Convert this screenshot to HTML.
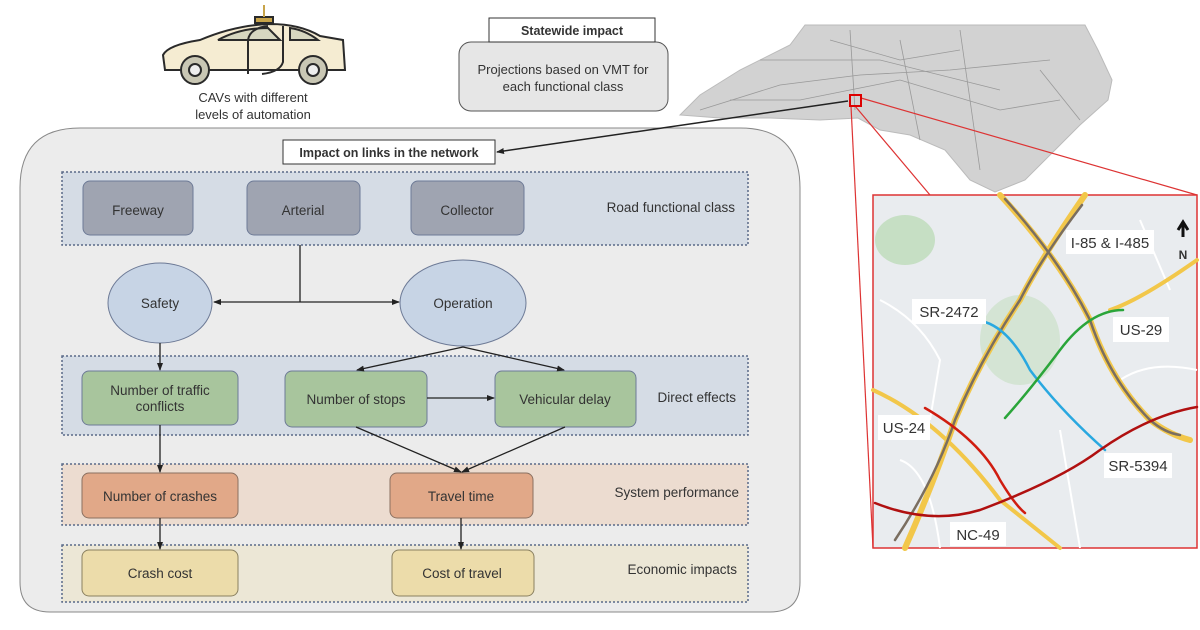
<!DOCTYPE html>
<html><head><meta charset="utf-8"><style>
html,body{margin:0;padding:0;background:#fff;width:1200px;height:630px;overflow:hidden}
svg{display:block}
text{font-family:"Liberation Sans",sans-serif;fill:#333}
</style></head><body>
<svg width="1200" height="630" viewBox="0 0 1200 630" xmlns="http://www.w3.org/2000/svg">
<defs>
<marker id="a" markerWidth="8" markerHeight="8" refX="7" refY="4" orient="auto" markerUnits="userSpaceOnUse"><path d="M0,1 L8,4 L0,7 z" fill="#222"/></marker>
</defs>
<!-- car -->
<g stroke="#2a2a2a" stroke-width="2" fill="#f5ecd2">
<path d="M165,70 L163,55 Q168,45 200,40 Q235,25 270,24 Q300,24 320,36 L343,40 L345,70 Z"/>
<path d="M218,40 Q240,28 268,28 L280,40 Z" fill="#d7d7c0"/>
<path d="M290,28 Q305,30 318,40 L290,40 Z" fill="#d7d7c0"/>
<path d="M248,74 L248,40 Q250,28 268,26 M283,26 L283,62 Q280,72 262,74" fill="none"/>
<rect x="255" y="17" width="18" height="6" fill="#c8a44a"/>
<circle cx="195" cy="70" r="14" fill="#c9c7b4"/><circle cx="195" cy="70" r="6" fill="#eee"/>
<circle cx="313" cy="70" r="14" fill="#c9c7b4"/><circle cx="313" cy="70" r="6" fill="#eee"/>
</g>
<line x1="264" y1="5" x2="264" y2="17" stroke="#c8a44a" stroke-width="2"/>
<text x="253" y="102" font-size="13" text-anchor="middle">CAVs with different</text>
<text x="253" y="119" font-size="13" text-anchor="middle">levels of automation</text>
<!-- statewide -->
<rect x="459" y="42" width="209" height="69" rx="12" fill="#e6e6e6" stroke="#555"/>
<rect x="489" y="18" width="166" height="24" fill="#fff" stroke="#333"/>
<text x="572" y="35" font-size="12.5" font-weight="bold" text-anchor="middle" fill="#111">Statewide impact</text>
<text x="563" y="74" font-size="13" text-anchor="middle">Projections based on VMT for</text>
<text x="563" y="91" font-size="13" text-anchor="middle">each functional class</text>
<!-- NC map -->
<path d="M680,115 L700,95 L740,70 L790,45 L805,25 L1085,25 L1098,50 L1112,80 L1108,100 L1080,125 L1055,150 L1025,180 L995,192 L970,180 L945,150 L910,135 L880,130 L858,118 L820,120 L770,118 L720,118 Z" fill="#d2d2d2" stroke="#bbb"/>
<g stroke="#999" stroke-width="0.8" fill="none">
<path d="M700,110 L780,85 L860,75 L950,70 L1050,60"/><path d="M850,30 L855,110"/><path d="M900,40 L920,140"/><path d="M760,60 L880,60 L1000,90"/><path d="M960,30 L980,170"/><path d="M1040,70 L1080,120"/>
<path d="M730,100 L800,100 L850,90 L900,80 L1000,110 L1060,100"/><path d="M830,40 L900,60 L960,50"/>
</g>
<g stroke="#d33" stroke-width="1.2">
<line x1="851" y1="106" x2="873" y2="548"/><line x1="855" y1="106" x2="930" y2="195"/><line x1="861" y1="98" x2="1197" y2="195"/>
</g>
<rect x="850" y="95" width="11" height="11" fill="none" stroke="#d00" stroke-width="2"/>
<!-- zoom map -->
<rect x="873" y="195" width="324" height="353" fill="#e9ecef" stroke="#d33" stroke-width="1.5"/>
<ellipse cx="905" cy="240" rx="30" ry="25" fill="#c6dfc4"/>
<ellipse cx="1020" cy="340" rx="40" ry="45" fill="#d4e4d4"/>
<g stroke="#fff" stroke-width="2" fill="none">
<path d="M880,300 Q920,320 940,360 L930,420"/><path d="M1120,380 Q1150,360 1197,370"/><path d="M1060,430 L1080,548"/><path d="M900,460 Q930,470 940,548"/><path d="M1140,220 L1170,290"/>
</g>
<g fill="none" stroke-linecap="round">
<path d="M1000,195 Q1060,260 1090,320 Q1110,380 1150,420 Q1170,435 1190,440" stroke="#f2c74a" stroke-width="6"/>
<path d="M1085,195 Q1040,260 1020,300 Q980,360 955,420 Q935,480 905,548" stroke="#f2c74a" stroke-width="6"/>
<path d="M1197,260 Q1140,300 1110,310" stroke="#f2c74a" stroke-width="4"/>
<path d="M873,390 Q940,420 1000,500 L1060,548" stroke="#f2c74a" stroke-width="4"/>
<path d="M1005,199 Q1060,260 1090,320 Q1110,380 1150,420 Q1165,433 1180,435" stroke="#7a6e60" stroke-width="2.5"/>
<path d="M1082,205 Q1040,260 1020,300 Q980,360 955,420 Q935,480 895,540" stroke="#7a6e60" stroke-width="2.5"/>
<path d="M985,322 Q1010,330 1030,370 Q1060,410 1105,450" stroke="#29a8e0" stroke-width="2.5"/>
<path d="M1123,310 Q1090,310 1060,350 Q1030,390 1005,418" stroke="#2aa53a" stroke-width="2.5"/>
<path d="M925,408 Q980,440 1000,480 Q1015,505 1025,513" stroke="#d01d10" stroke-width="2.5"/>
<path d="M875,503 Q930,525 980,510 Q1060,480 1100,450 Q1150,415 1197,407" stroke="#b01010" stroke-width="2.5"/>
</g>
<g font-size="15">
<rect x="1066" y="230" width="88" height="24" fill="#fff"/><text x="1110" y="248" text-anchor="middle" fill="#222">I-85 &amp; I-485</text>
<rect x="912" y="299" width="74" height="25" fill="#fff"/><text x="949" y="317" text-anchor="middle" fill="#222">SR-2472</text>
<rect x="1113" y="317" width="56" height="25" fill="#fff"/><text x="1141" y="335" text-anchor="middle" fill="#222">US-29</text>
<rect x="878" y="415" width="52" height="25" fill="#fff"/><text x="904" y="433" text-anchor="middle" fill="#222">US-24</text>
<rect x="1104" y="453" width="68" height="25" fill="#fff"/><text x="1138" y="471" text-anchor="middle" fill="#222">SR-5394</text>
<rect x="950" y="522" width="56" height="24" fill="#fff"/><text x="978" y="540" text-anchor="middle" fill="#222">NC-49</text>
</g>
<path d="M1183,237 L1183,224 M1178,230 L1183,222 L1188,230" stroke="#111" stroke-width="3" fill="none"/>
<text x="1183" y="259" font-size="12" font-weight="bold" text-anchor="middle" fill="#111">N</text>
<!-- main container -->
<path d="M80,128 L740,128 Q800,128 800,188 L800,582 Q800,612 770,612 L50,612 Q20,612 20,582 L20,188 Q20,128 80,128 Z" fill="#ececec" stroke="#888"/>
<line x1="848" y1="101" x2="497" y2="152" stroke="#222" stroke-width="1.5" marker-end="url(#a)"/>
<rect x="283" y="140" width="212" height="24" fill="#fff" stroke="#333"/>
<text x="389" y="157" font-size="12.5" font-weight="bold" text-anchor="middle" fill="#111">Impact on links in the network</text>
<!-- bands -->
<g stroke="#5a6a88" stroke-width="1.5" stroke-dasharray="2,2">
<rect x="62" y="172" width="686" height="73" fill="#d5dce5"/>
<rect x="62" y="356" width="686" height="79" fill="#d5dce5"/>
<rect x="62" y="464" width="686" height="61" fill="#ecdcd0"/>
<rect x="62" y="545" width="686" height="57" fill="#ece7d6"/>
</g>
<g font-size="13.5" text-anchor="middle">
<rect x="83" y="181" width="110" height="54" rx="7" fill="#9fa4b1" stroke="#6d7a96"/><text x="138" y="215">Freeway</text>
<rect x="247" y="181" width="113" height="54" rx="7" fill="#9fa4b1" stroke="#6d7a96"/><text x="303" y="215">Arterial</text>
<rect x="411" y="181" width="113" height="54" rx="7" fill="#9fa4b1" stroke="#6d7a96"/><text x="467" y="215">Collector</text>
<ellipse cx="160" cy="303" rx="52" ry="40" fill="#c7d4e5" stroke="#6d7a96"/><text x="160" y="308">Safety</text>
<ellipse cx="463" cy="303" rx="63" ry="43" fill="#c7d4e5" stroke="#6d7a96"/><text x="463" y="308">Operation</text>
<rect x="82" y="371" width="156" height="54" rx="7" fill="#a8c59d" stroke="#6d7a96"/><text x="160" y="395">Number of traffic</text><text x="160" y="411">conflicts</text>
<rect x="285" y="371" width="142" height="56" rx="7" fill="#a8c59d" stroke="#6d7a96"/><text x="356" y="404">Number of stops</text>
<rect x="495" y="371" width="141" height="56" rx="7" fill="#a8c59d" stroke="#6d7a96"/><text x="565" y="404">Vehicular delay</text>
<rect x="82" y="473" width="156" height="45" rx="7" fill="#e1a888" stroke="#8a7060"/><text x="160" y="501">Number of crashes</text>
<rect x="390" y="473" width="143" height="45" rx="7" fill="#e1a888" stroke="#8a7060"/><text x="461" y="501">Travel time</text>
<rect x="82" y="550" width="156" height="46" rx="7" fill="#ecdcaa" stroke="#8a8060"/><text x="160" y="578">Crash cost</text>
<rect x="392" y="550" width="142" height="46" rx="7" fill="#ecdcaa" stroke="#8a8060"/><text x="462" y="578">Cost of travel</text>
</g>
<g font-size="13.5" text-anchor="end">
<text x="735" y="212">Road functional class</text>
<text x="736" y="402">Direct effects</text>
<text x="739" y="497">System performance</text>
<text x="737" y="574">Economic impacts</text>
</g>
<!-- connectors -->
<g stroke="#222" stroke-width="1.3" fill="none">
<line x1="300" y1="245" x2="300" y2="302"/>
<line x1="300" y1="302" x2="214" y2="302" marker-end="url(#a)"/>
<line x1="300" y1="302" x2="399" y2="302" marker-end="url(#a)"/>
<line x1="160" y1="343" x2="160" y2="370" marker-end="url(#a)"/>
<line x1="463" y1="347" x2="357" y2="370" marker-end="url(#a)"/>
<line x1="463" y1="347" x2="564" y2="370" marker-end="url(#a)"/>
<line x1="427" y1="398" x2="494" y2="398" marker-end="url(#a)"/>
<line x1="160" y1="425" x2="160" y2="472" marker-end="url(#a)"/>
<line x1="356" y1="427" x2="461" y2="472" marker-end="url(#a)"/>
<line x1="565" y1="427" x2="462" y2="472" marker-end="url(#a)"/>
<line x1="160" y1="518" x2="160" y2="549" marker-end="url(#a)"/>
<line x1="461" y1="518" x2="461" y2="549" marker-end="url(#a)"/>
</g>
</svg>
</body></html>
